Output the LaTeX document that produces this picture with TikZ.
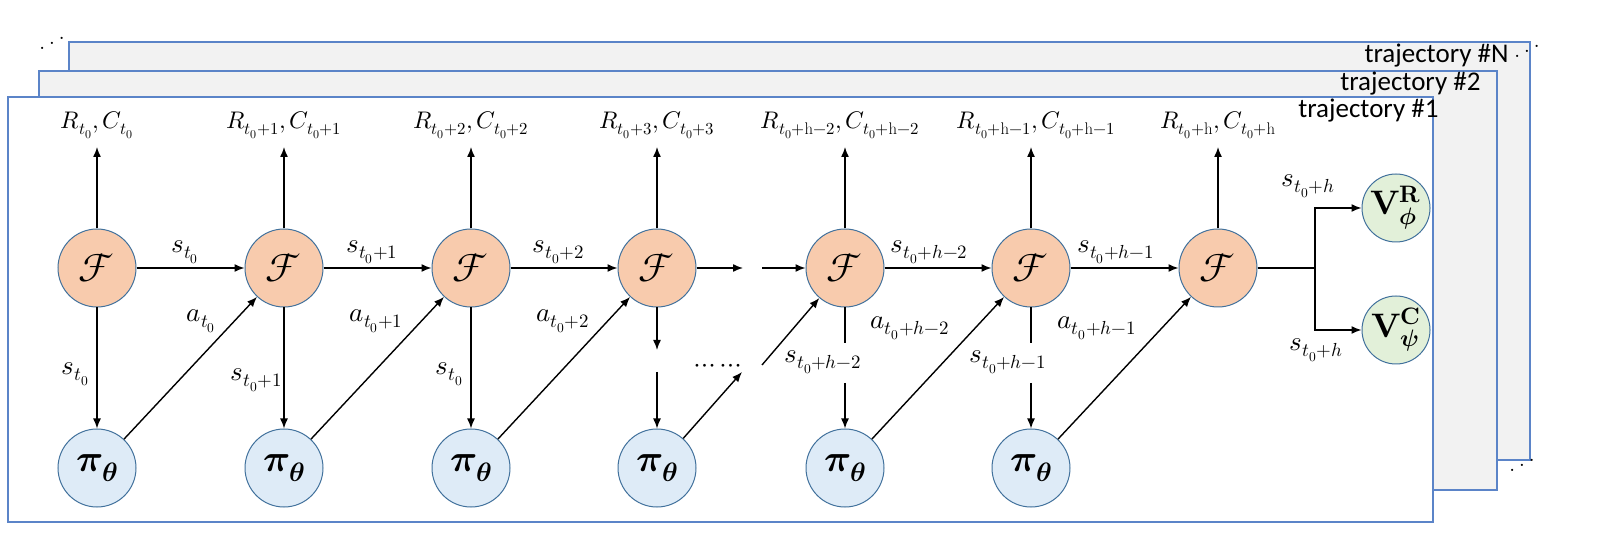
\documentclass[tikz,border=0pt]{standalone}
\usepackage{amsmath}
\usepackage{fontspec}
\usepackage{unicode-math}
\setmathfont{Latin Modern Math}
\newfontfamily\lab{Carlito}
\usetikzlibrary{arrows.meta}
\newcommand\updots{\mathinner{\raise1pt\hbox{.}\mkern2mu\raise6pt\hbox{.}\mkern2mu\raise11pt\hbox{.}}}
\definecolor{fcol}{HTML}{F8CBAD}
\definecolor{pcol}{HTML}{DEEBF7}
\definecolor{vcol}{HTML}{E2F0D9}
\definecolor{bcol}{HTML}{41719C}
\definecolor{frm}{HTML}{5B84C8}
\begin{document}
\begin{tikzpicture}[x=1pt,y=-1pt,
  every node/.style={font=\fontsize{27}{30}\selectfont},
  rl/.style={font=\fontsize{24}{28}\selectfont},
  frame/.style={draw=frm, line width=1.5pt},
  fn/.style={circle,draw=bcol,line width=1pt,fill=fcol,minimum size=78pt,inner sep=0pt,font=\fontsize{40}{44}\selectfont},
  pn/.style={circle,draw=bcol,line width=1pt,fill=pcol,minimum size=78pt,inner sep=0pt,font=\fontsize{38}{42}\selectfont},
  vn/.style={circle,draw=bcol,line width=1pt,fill=vcol,minimum size=68pt,inner sep=0pt,font=\fontsize{34}{38}\selectfont},
  ar/.style={-{Latex[length=10pt,width=8pt]},line width=1.4pt},
  ln/.style={line width=1.4pt},
  tl/.style={font=\lab\fontsize{27}{30}\selectfont,anchor=east}]
\useasboundingbox (0,0) rectangle (1610,534);
% stacked frames
\draw[frame,fill=gray!10] (69,42) rectangle (1530,460);
\draw[frame,fill=gray!10] (39,71) rectangle (1497,490);
\draw[frame,fill=white] (8,97) rectangle (1433,522);
\node[tl] (tn) at (1512,56) {trajectory \#N};
\node[tl] (t2) at (1484,84) {trajectory \#2};
\node[tl] (t1) at (1442,111) {trajectory \#1};
\node (d1) at (52,44) {$\updots$};
\node (d2) at (1527,52) {$\updots$};
\node (d3) at (1522,466) {$\updots$};
% nodes
\foreach \i/\x in {1/97,2/284,3/471,4/657,5/845,6/1031,7/1218}{
  \node[fn] (f\i) at (\x,268) {$\mathcal{F}$};
  \coordinate (r\i) at (\x,147);
  \draw[ar] (f\i) -- (r\i);
}
\foreach \i/\x in {1/97,2/284,3/471,4/657,5/845,6/1031}{
  \node[pn] (p\i) at (\x,468) {$\symbf{\pi}_{\symbf{\theta}}$};
}
\node[vn] (vr) at (1396,208) {$\symbf{V}_{\symbf{\phi}}^{\symbf{R}}$};
\node[vn] (vc) at (1396,330) {$\symbf{V}_{\symbf{\psi}}^{\symbf{C}}$};
% reward labels
\node[rl] (l1) at (97,125) {$R_{t_0},C_{t_0}$};
\node[rl] (l2) at (284,125) {$R_{t_0+1},C_{t_0+1}$};
\node[rl] (l3) at (471,125) {$R_{t_0+2},C_{t_0+2}$};
\node[rl] (l4) at (657,125) {$R_{t_0+3},C_{t_0+3}$};
\node[rl] (l5) at (840,125) {$R_{t_0+\mathrm{h}-2},C_{t_0+\mathrm{h}-2}$};
\node[rl] (l6) at (1036,125) {$R_{t_0+\mathrm{h}-1},C_{t_0+\mathrm{h}-1}$};
\node[rl] (l7) at (1218,125) {$R_{t_0+\mathrm{h}},C_{t_0+\mathrm{h}}$};
% horizontal chain
\draw[ar] (f1) -- node[above,pos=0.45] {$s_{t_0}$} (f2);
\draw[ar] (f2) -- node[above,pos=0.45] {$s_{t_0+1}$} (f3);
\draw[ar] (f3) -- node[above,pos=0.45] {$s_{t_0+2}$} (f4);
\coordinate (h1) at (743,268);
\coordinate (h2) at (762,268);
\draw[ar] (f4) -- (h1);
\draw[ar] (h2) -- (f5);
\draw[ar] (f5) -- node[above,pos=0.42] {$s_{t_0+h-2}$} (f6);
\draw[ar] (f6) -- node[above,pos=0.42] {$s_{t_0+h-1}$} (f7);
% vertical F -> pi
\draw[ar] (f1) -- node[left=4pt,pos=0.55] {$s_{t_0}$} (p1);
\draw[ar] (f2) -- node[left=-2pt,pos=0.6] {$s_{t_0+1}$} (p2);
\draw[ar] (f3) -- node[left=4pt,pos=0.55] {$s_{t_0}$} (p3);
\coordinate (v4a) at (657,350);
\coordinate (v4b) at (657,372);
\draw[ar] (f4) -- (v4a);
\draw[ar] (v4b) -- (p4);
\coordinate (v5a) at (845,343);
\coordinate (v5b) at (845,383);
\draw[ln] (f5) -- (v5a);
\draw[ar] (v5b) -- (p5);
\node (s5) at (823,362) {$s_{t_0+h-2}$};
\coordinate (v6a) at (1031,343);
\coordinate (v6b) at (1031,383);
\draw[ln] (f6) -- (v6a);
\draw[ar] (v6b) -- (p6);
\node (s6) at (1008,362) {$s_{t_0+h-1}$};
% diagonal pi -> F
\draw[ar] (p1) -- node[above left,pos=0.72] {$a_{t_0}$} (f2);
\draw[ar] (p2) -- node[above left,pos=0.72] {$a_{t_0+1}$} (f3);
\draw[ar] (p3) -- node[above left,pos=0.72] {$a_{t_0+2}$} (f4);
\coordinate (g1) at (742,372);
\coordinate (g2) at (762,365);
\draw[ar] (p4) -- (g1);
\draw[ar] (g2) -- (f5);
\node (dots) at (718,368) {$\cdots\cdots$};
\draw[ar] (p5) -- (f6);
\draw[ar] (p6) -- (f7);
\node (a5) at (910,328) {$a_{t_0+h-2}$};
\node (a6) at (1097,328) {$a_{t_0+h-1}$};
% value heads
\coordinate (b0) at (1315,268);
\coordinate (b1) at (1315,208);
\coordinate (b2) at (1315,330);
\draw[ln] (f7) -- (b0);
\draw[ar] (b0) -- (b1) -- (vr);
\draw[ar] (b0) -- (b2) -- (vc);
\node (sh1) at (1308,186) {$s_{t_0+h}$};
\node (sh2) at (1316,350) {$s_{t_0+h}$};
\end{tikzpicture}
\end{document}
